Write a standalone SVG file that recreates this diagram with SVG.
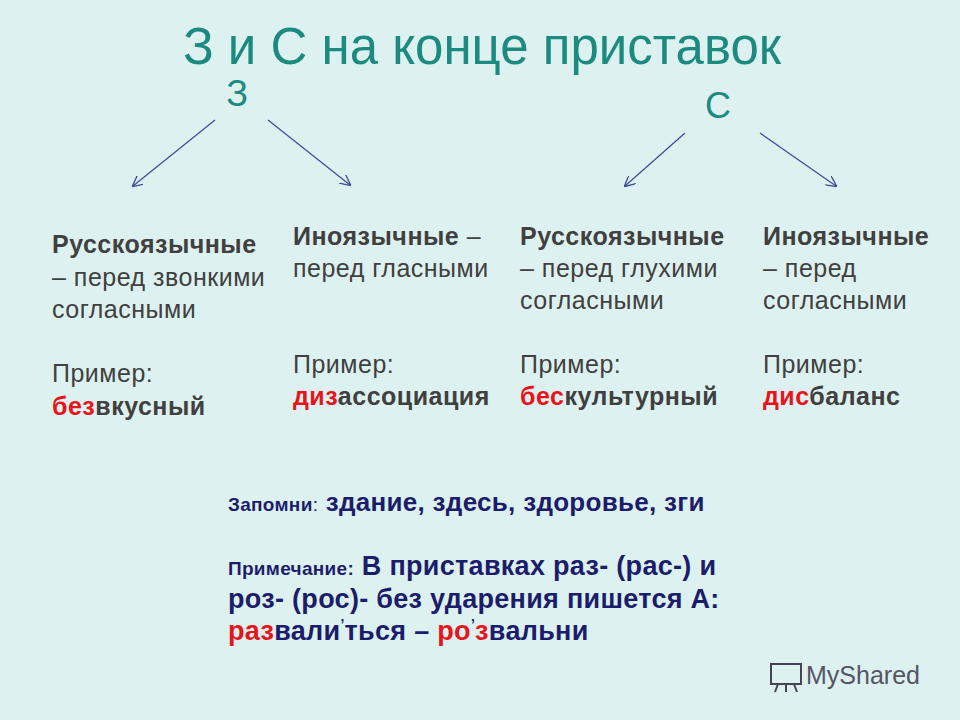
<svg xmlns="http://www.w3.org/2000/svg" width="960" height="720" viewBox="0 0 960 720">
<style>
text{font-family:"Liberation Sans",Arial,sans-serif}
.t{fill:#404040;font-size:25px;letter-spacing:0.5px}
.b{font-weight:bold}
.r{fill:#e8141c}
.n{fill:#1c1c6c;font-weight:bold;letter-spacing:0.3px}
.c{stroke:#3a4a9a;stroke-width:1.2;fill:none;marker-end:url(#a)}
</style>
<defs><marker id="a" viewBox="0 0 10 10" refX="9" refY="5" markerWidth="9" markerHeight="9" orient="auto"><path d="M0,0L10,5L0,10" fill="none" stroke="#3a4a9a" stroke-width="1.2"/></marker></defs>
<rect width="960" height="720" fill="#ddf2f0"/>
<g id="title"><text x="482" y="64" text-anchor="middle" font-size="51" fill="#1d8a80">З и С на конце приставок</text>
<text x="237" y="106" text-anchor="middle" font-size="36" fill="#1d8a80">З</text>
<text x="718" y="118" text-anchor="middle" font-size="36" fill="#1d8a80">С</text></g>
<g id="connectors">
<line class="c" x1="215" y1="120" x2="133" y2="186"/>
<line class="c" x1="268" y1="120" x2="350" y2="185"/>
<line class="c" x1="685" y1="133" x2="625" y2="186"/>
<line class="c" x1="760" y1="133" x2="836" y2="186"/>
</g>
<g id="n1"><text x="52" y="253" class="t b">Русскоязычные</text><text x="52" y="286" class="t">– перед звонкими</text><text x="52" y="318" class="t">согласными</text><text x="52" y="382" class="t">Пример:</text><text x="52" y="415" class="t b"><tspan class="r">без</tspan>вкусный</text></g>
<g id="n2"><text x="293" y="245" class="t"><tspan class="b">Иноязычные</tspan> –</text><text x="293" y="277" class="t">перед гласными</text><text x="293" y="373" class="t">Пример:</text><text x="293" y="405" class="t b"><tspan class="r">диз</tspan>ассоциация</text></g>
<g id="n3"><text x="520" y="245" class="t b">Русскоязычные</text><text x="520" y="277" class="t">– перед глухими</text><text x="520" y="309" class="t">согласными</text><text x="520" y="373" class="t">Пример:</text><text x="520" y="405" class="t b"><tspan class="r">бес</tspan>культурный</text></g>
<g id="n4"><text x="763" y="245" class="t b">Иноязычные</text><text x="763" y="277" class="t">– перед</text><text x="763" y="309" class="t">согласными</text><text x="763" y="373" class="t">Пример:</text><text x="763" y="405" class="t b"><tspan class="r">дис</tspan>баланс</text></g>
<g id="note">
<text x="228" y="511" class="n" font-size="26"><tspan font-size="19">Запомни</tspan><tspan font-size="19" font-weight="normal">:</tspan> здание, здесь, здоровье, зги</text>
<text x="228" y="575" class="n" font-size="27"><tspan font-size="19">Примечание:</tspan>  В приставках раз- (рас-) и</text>
<text x="228" y="608" class="n" font-size="27">роз- (рос)- без ударения пишется А:</text>
<text x="228" y="640" class="n" font-size="27"><tspan class="r">раз</tspan>вали<tspan font-size="14" dy="-11">’</tspan><tspan dy="11">ться – </tspan><tspan class="r">ро</tspan><tspan font-size="14" dy="-11">’</tspan><tspan class="r" dy="11">з</tspan>вальни</text>
</g>
<g id="logo" fill="none" stroke="#445" stroke-width="2"><rect x="771" y="664" width="30" height="20"/><path d="M778,684l-3,8M786,684v8M794,684l3,8"/><text x="806" y="684" font-size="25" fill="#556" stroke="none">MyShared</text></g>
</svg>
